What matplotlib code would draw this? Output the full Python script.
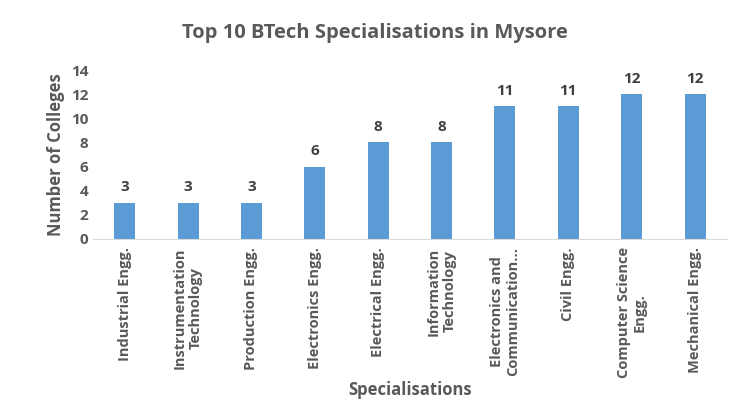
import matplotlib
matplotlib.use("Agg")
import matplotlib.pyplot as plt

categories = ["Industrial Engg.", "Instrumentation\nTechnology", "Production Engg.", "Electronics Engg.",
              "Electrical Engg.", "Information\nTechnology", "Electronics and\nCommunication...",
              "Civil Engg.", "Computer Science\nEngg.", "Mechanical Engg."]
values = [3, 3, 3, 6, 8, 8, 11, 11, 12, 12]
yticks = [0, 2, 4, 6, 8, 10, 12, 14]

grey = "#595959"
plt.rcParams['font.family'] = ['Open Sans', 'DejaVu Sans']
fig = plt.figure(figsize=(7.5, 4.05), dpi=100)
ax = fig.add_axes([0.124, 0.41, 0.845, 0.417])
x = range(len(values))
ax.bar(x, values, width=0.33, color="#5B9BD5")
for i, v in zip(x, values):
    ax.text(i, v + 0.7, str(v), ha="center", va="bottom", fontsize=11, fontweight="bold", color="#404040")
ax.set_xlim(-0.5, len(values) - 0.5)
ax.set_ylim(0, 14)
ax.set_yticks(yticks)
ax.set_xticks(list(x))
ax.set_xticklabels(categories, rotation=90, fontsize=10.5, fontweight="bold", color=grey, ha="center", va="top")
ax.tick_params(axis="y", labelsize=11, labelcolor=grey, length=0)
for t in ax.get_yticklabels():
    t.set_fontweight("bold")
ax.tick_params(axis="x", length=0, pad=6)
for s in ["top", "right", "left"]:
    ax.spines[s].set_visible(False)
ax.spines["bottom"].set_color("#D9D9D9")
ax.set_ylabel("Number of Colleges", fontsize=12, fontweight="bold", color=grey)
ax.set_xlabel("Specialisations", fontsize=12, fontweight="bold", color=grey, labelpad=2)
fig.text(0.5, 0.905, "Top 10 BTech Specialisations in Mysore", ha="center", fontsize=14.5, fontweight="bold", color=grey)
fig.savefig("out.png", dpi=100)
